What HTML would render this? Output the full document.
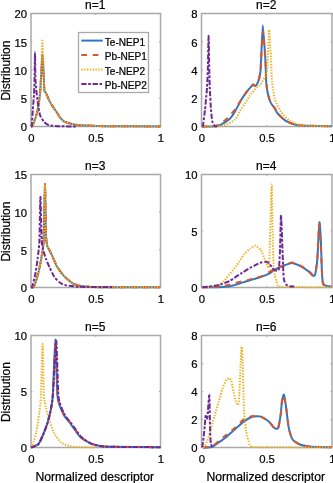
<!DOCTYPE html><html><head><meta charset="utf-8"><style>html,body{margin:0;padding:0;background:#fff;width:333px;height:483px;overflow:hidden}svg{display:block;filter:blur(0.5px)}text{font-family:"Liberation Sans", sans-serif;stroke:#000;stroke-width:0.22px;paint-order:stroke}</style></head><body>
<svg width="333" height="483" viewBox="0 0 333 483">
<rect x="31.0" y="13.5" width="129.5" height="113.0" fill="none" stroke="#a9a9a9" stroke-width="1.5"/>
<line x1="31.0" y1="126.50" x2="32.5" y2="126.50" stroke="#a9a9a9" stroke-width="1"/>
<line x1="160.5" y1="126.50" x2="159.0" y2="126.50" stroke="#a9a9a9" stroke-width="1"/>
<text x="27.0" y="131.30" font-size="11.3" text-anchor="end" fill="#000">0</text>
<line x1="31.0" y1="98.25" x2="32.5" y2="98.25" stroke="#a9a9a9" stroke-width="1"/>
<line x1="160.5" y1="98.25" x2="159.0" y2="98.25" stroke="#a9a9a9" stroke-width="1"/>
<text x="27.0" y="103.05" font-size="11.3" text-anchor="end" fill="#000">5</text>
<line x1="31.0" y1="70.00" x2="32.5" y2="70.00" stroke="#a9a9a9" stroke-width="1"/>
<line x1="160.5" y1="70.00" x2="159.0" y2="70.00" stroke="#a9a9a9" stroke-width="1"/>
<text x="27.0" y="74.80" font-size="11.3" text-anchor="end" fill="#000">10</text>
<line x1="31.0" y1="41.75" x2="32.5" y2="41.75" stroke="#a9a9a9" stroke-width="1"/>
<line x1="160.5" y1="41.75" x2="159.0" y2="41.75" stroke="#a9a9a9" stroke-width="1"/>
<text x="27.0" y="46.55" font-size="11.3" text-anchor="end" fill="#000">15</text>
<line x1="31.0" y1="13.50" x2="32.5" y2="13.50" stroke="#a9a9a9" stroke-width="1"/>
<line x1="160.5" y1="13.50" x2="159.0" y2="13.50" stroke="#a9a9a9" stroke-width="1"/>
<text x="27.0" y="18.30" font-size="11.3" text-anchor="end" fill="#000">20</text>
<line x1="31.00" y1="126.5" x2="31.00" y2="125.0" stroke="#a9a9a9" stroke-width="1"/>
<line x1="31.00" y1="13.5" x2="31.00" y2="15.0" stroke="#a9a9a9" stroke-width="1"/>
<text x="31.30" y="142.3" font-size="11.3" text-anchor="middle" fill="#000">0</text>
<line x1="95.75" y1="126.5" x2="95.75" y2="125.0" stroke="#a9a9a9" stroke-width="1"/>
<line x1="95.75" y1="13.5" x2="95.75" y2="15.0" stroke="#a9a9a9" stroke-width="1"/>
<text x="96.05" y="142.3" font-size="11.3" text-anchor="middle" fill="#000">0.5</text>
<line x1="160.50" y1="126.5" x2="160.50" y2="125.0" stroke="#a9a9a9" stroke-width="1"/>
<line x1="160.50" y1="13.5" x2="160.50" y2="15.0" stroke="#a9a9a9" stroke-width="1"/>
<text x="160.80" y="142.3" font-size="11.3" text-anchor="middle" fill="#000">1</text>
<text x="95.25" y="9.3" font-size="12" text-anchor="middle" fill="#000">n=1</text>
<path d="M31.00,126.50 C31.15,126.42 32.05,126.55 32.50,125.70 C32.95,124.85 34.96,119.69 35.50,118.00 C36.04,116.31 37.46,111.11 37.90,108.80 C38.34,106.49 39.60,97.78 39.90,94.90 C40.20,92.02 40.70,83.29 40.90,80.00 C41.10,76.71 41.76,64.54 41.90,62.00 C42.04,59.46 42.17,54.20 42.30,54.60 C42.43,55.00 43.04,63.46 43.20,66.00 C43.36,68.54 43.78,77.51 43.90,80.00 C44.02,82.49 44.20,89.61 44.40,90.90 C44.60,92.19 45.45,92.00 45.90,92.90 C46.35,93.80 48.20,98.51 48.90,99.90 C49.60,101.29 52.01,105.41 52.90,106.80 C53.79,108.19 57.14,112.80 57.80,113.80 C58.46,114.80 58.88,116.05 59.50,116.80 C60.12,117.55 62.95,120.63 64.00,121.30 C65.05,121.97 68.65,123.13 70.00,123.50 C71.35,123.87 75.25,124.77 77.50,125.00 C79.75,125.23 89.25,125.67 92.50,125.80 C95.75,125.93 103.20,126.24 110.00,126.30 C116.80,126.36 155.45,126.39 160.50,126.40" stroke="#2f77c4" stroke-width="2.00" fill="none" stroke-linejoin="round"/>
<path d="M31.00,126.50 C31.15,126.42 32.05,126.55 32.50,125.70 C32.95,124.85 34.96,119.69 35.50,118.00 C36.04,116.31 37.46,111.11 37.90,108.80 C38.34,106.49 39.60,97.78 39.90,94.90 C40.20,92.02 40.70,83.29 40.90,80.00 C41.10,76.71 41.76,64.54 41.90,62.00 C42.04,59.46 42.17,54.20 42.30,54.60 C42.43,55.00 43.04,63.46 43.20,66.00 C43.36,68.54 43.78,77.51 43.90,80.00 C44.02,82.49 44.20,89.61 44.40,90.90 C44.60,92.19 45.45,92.00 45.90,92.90 C46.35,93.80 48.20,98.51 48.90,99.90 C49.60,101.29 52.01,105.41 52.90,106.80 C53.79,108.19 57.14,112.80 57.80,113.80 C58.46,114.80 58.88,116.05 59.50,116.80 C60.12,117.55 62.95,120.63 64.00,121.30 C65.05,121.97 68.65,123.13 70.00,123.50 C71.35,123.87 75.25,124.77 77.50,125.00 C79.75,125.23 89.25,125.67 92.50,125.80 C95.75,125.93 103.20,126.24 110.00,126.30 C116.80,126.36 155.45,126.39 160.50,126.40" stroke="#d9562a" stroke-width="2.00" fill="none" stroke-dasharray="5.7 5.7"/>
<path d="M31.00,126.50 C31.15,126.42 32.05,126.55 32.50,125.70 C32.95,124.85 34.96,119.69 35.50,118.00 C36.04,116.31 37.46,111.11 37.90,108.80 C38.34,106.49 39.60,97.78 39.90,94.90 C40.20,92.02 40.70,83.99 40.90,80.00 C41.10,76.01 41.75,58.94 41.90,55.00 C42.05,51.06 42.26,39.90 42.40,40.60 C42.54,41.30 43.15,58.06 43.30,62.00 C43.45,65.94 43.79,77.11 43.90,80.00 C44.01,82.89 44.20,89.61 44.40,90.90 C44.60,92.19 45.45,92.00 45.90,92.90 C46.35,93.80 48.20,98.51 48.90,99.90 C49.60,101.29 52.01,105.41 52.90,106.80 C53.79,108.19 57.14,112.80 57.80,113.80 C58.46,114.80 58.88,116.05 59.50,116.80 C60.12,117.55 62.95,120.63 64.00,121.30 C65.05,121.97 68.65,123.13 70.00,123.50 C71.35,123.87 75.25,124.77 77.50,125.00 C79.75,125.23 89.25,125.67 92.50,125.80 C95.75,125.93 103.20,126.24 110.00,126.30 C116.80,126.36 155.45,126.39 160.50,126.40" stroke="#EDB120" stroke-width="2.00" fill="none" stroke-dasharray="1.4 1.42"/>
<path d="M31.00,126.50 C31.08,126.42 31.62,127.37 31.80,125.70 C31.98,124.03 32.58,112.88 32.80,109.80 C33.02,106.72 33.83,97.88 34.00,94.90 C34.17,91.92 34.40,84.27 34.50,80.00 C34.60,75.73 34.90,52.20 35.00,52.20 C35.10,52.20 35.26,75.23 35.50,80.00 C35.74,84.77 36.96,96.42 37.40,99.90 C37.84,103.38 39.25,112.62 39.90,114.80 C40.55,116.98 43.00,120.66 43.90,121.70 C44.80,122.74 47.29,124.75 48.90,125.20 C50.51,125.65 57.16,126.07 60.00,126.20 C62.84,126.33 75.57,126.47 77.30,126.50" stroke="#6e2a94" stroke-width="2.00" fill="none" stroke-dasharray="5.3 1.6 2.7 1.7"/>
<text x="0" y="0" font-size="12" text-anchor="middle" fill="#000" transform="translate(9.6,70.6) rotate(-90)">Distribution</text>
<rect x="201.5" y="13.5" width="130.5" height="113.0" fill="none" stroke="#a9a9a9" stroke-width="1.5"/>
<line x1="201.5" y1="126.50" x2="203.0" y2="126.50" stroke="#a9a9a9" stroke-width="1"/>
<line x1="332.0" y1="126.50" x2="330.5" y2="126.50" stroke="#a9a9a9" stroke-width="1"/>
<text x="197.5" y="131.30" font-size="11.3" text-anchor="end" fill="#000">0</text>
<line x1="201.5" y1="98.25" x2="203.0" y2="98.25" stroke="#a9a9a9" stroke-width="1"/>
<line x1="332.0" y1="98.25" x2="330.5" y2="98.25" stroke="#a9a9a9" stroke-width="1"/>
<text x="197.5" y="103.05" font-size="11.3" text-anchor="end" fill="#000">2</text>
<line x1="201.5" y1="70.00" x2="203.0" y2="70.00" stroke="#a9a9a9" stroke-width="1"/>
<line x1="332.0" y1="70.00" x2="330.5" y2="70.00" stroke="#a9a9a9" stroke-width="1"/>
<text x="197.5" y="74.80" font-size="11.3" text-anchor="end" fill="#000">4</text>
<line x1="201.5" y1="41.75" x2="203.0" y2="41.75" stroke="#a9a9a9" stroke-width="1"/>
<line x1="332.0" y1="41.75" x2="330.5" y2="41.75" stroke="#a9a9a9" stroke-width="1"/>
<text x="197.5" y="46.55" font-size="11.3" text-anchor="end" fill="#000">6</text>
<line x1="201.5" y1="13.50" x2="203.0" y2="13.50" stroke="#a9a9a9" stroke-width="1"/>
<line x1="332.0" y1="13.50" x2="330.5" y2="13.50" stroke="#a9a9a9" stroke-width="1"/>
<text x="197.5" y="18.30" font-size="11.3" text-anchor="end" fill="#000">8</text>
<line x1="201.50" y1="126.5" x2="201.50" y2="125.0" stroke="#a9a9a9" stroke-width="1"/>
<line x1="201.50" y1="13.5" x2="201.50" y2="15.0" stroke="#a9a9a9" stroke-width="1"/>
<text x="201.80" y="142.3" font-size="11.3" text-anchor="middle" fill="#000">0</text>
<line x1="266.75" y1="126.5" x2="266.75" y2="125.0" stroke="#a9a9a9" stroke-width="1"/>
<line x1="266.75" y1="13.5" x2="266.75" y2="15.0" stroke="#a9a9a9" stroke-width="1"/>
<text x="267.05" y="142.3" font-size="11.3" text-anchor="middle" fill="#000">0.5</text>
<line x1="332.00" y1="126.5" x2="332.00" y2="125.0" stroke="#a9a9a9" stroke-width="1"/>
<line x1="332.00" y1="13.5" x2="332.00" y2="15.0" stroke="#a9a9a9" stroke-width="1"/>
<text x="332.30" y="142.3" font-size="11.3" text-anchor="middle" fill="#000">1</text>
<text x="266.25" y="9.3" font-size="12" text-anchor="middle" fill="#000">n=2</text>
<path d="M201.80,126.50 C203.12,126.47 213.13,126.37 215.00,126.20 C216.87,126.03 219.04,125.52 220.50,124.80 C221.96,124.08 228.15,120.33 229.60,119.00 C231.05,117.67 233.88,113.34 235.00,111.50 C236.12,109.66 239.64,102.56 240.80,100.60 C241.96,98.64 245.59,93.28 246.60,91.90 C247.61,90.52 250.25,87.53 250.90,86.80 C251.55,86.07 252.66,84.67 253.10,84.60 C253.54,84.53 254.79,86.39 255.30,86.10 C255.81,85.81 257.69,83.11 258.20,81.70 C258.71,80.29 260.11,74.17 260.40,72.00 C260.69,69.83 260.86,64.68 261.10,60.00 C261.34,55.32 262.37,25.20 262.80,25.20 C263.23,25.20 265.06,54.35 265.40,60.00 C265.74,65.65 265.98,78.45 266.20,81.70 C266.42,84.95 267.22,90.57 267.60,92.50 C267.98,94.43 269.51,99.70 270.00,101.00 C270.49,102.30 272.00,104.75 272.50,105.50 C273.00,106.25 274.53,107.75 275.00,108.50 C275.47,109.25 276.16,111.79 277.20,113.00 C278.24,114.21 283.56,119.43 285.40,120.60 C287.24,121.77 293.56,124.19 295.60,124.70 C297.64,125.21 302.21,125.54 305.80,125.70 C309.39,125.86 328.93,126.24 331.50,126.30" stroke="#2f77c4" stroke-width="2.00" fill="none" stroke-linejoin="round"/>
<path d="M201.80,126.50 C202.92,126.47 211.33,126.37 213.00,126.20 C214.67,126.03 217.17,125.49 218.50,124.80 C219.83,124.11 224.70,120.78 226.30,119.30 C227.90,117.82 233.05,111.87 234.50,110.00 C235.95,108.13 239.59,102.41 240.80,100.60 C242.01,98.79 245.59,93.28 246.60,91.90 C247.61,90.52 250.25,87.53 250.90,86.80 C251.55,86.07 252.66,84.67 253.10,84.60 C253.54,84.53 254.79,86.39 255.30,86.10 C255.81,85.81 257.69,83.11 258.20,81.70 C258.71,80.29 260.11,74.17 260.40,72.00 C260.69,69.83 260.84,64.08 261.10,60.00 C261.36,55.92 262.57,31.20 263.00,31.20 C263.43,31.20 265.08,54.95 265.40,60.00 C265.72,65.05 265.98,78.45 266.20,81.70 C266.42,84.95 267.22,90.57 267.60,92.50 C267.98,94.43 269.51,99.70 270.00,101.00 C270.49,102.30 272.00,104.75 272.50,105.50 C273.00,106.25 274.53,107.75 275.00,108.50 C275.47,109.25 276.16,111.79 277.20,113.00 C278.24,114.21 283.56,119.43 285.40,120.60 C287.24,121.77 293.56,124.19 295.60,124.70 C297.64,125.21 302.21,125.54 305.80,125.70 C309.39,125.86 328.93,126.24 331.50,126.30" stroke="#d9562a" stroke-width="2.00" fill="none" stroke-dasharray="5.7 5.7"/>
<path d="M201.80,126.50 C203.90,126.45 219.48,126.71 222.80,126.00 C226.12,125.29 233.29,120.90 235.00,119.40 C236.71,117.90 239.18,112.16 239.90,111.00 C240.62,109.84 241.24,109.28 242.20,107.80 C243.16,106.32 248.05,98.23 249.50,96.20 C250.95,94.17 255.61,88.66 256.70,87.50 C257.79,86.34 259.53,85.76 260.40,84.60 C261.27,83.44 264.72,77.40 265.40,75.90 C266.08,74.40 266.84,74.21 267.20,69.60 C267.56,64.99 268.69,31.96 269.00,29.80 C269.31,27.64 270.08,44.98 270.30,48.00 C270.52,51.02 271.09,57.84 271.20,60.00 C271.31,62.16 271.32,67.43 271.40,69.60 C271.48,71.77 271.82,79.66 272.00,81.70 C272.18,83.74 272.95,88.37 273.20,90.00 C273.45,91.63 274.20,96.70 274.50,98.00 C274.80,99.30 275.52,101.56 276.20,103.00 C276.88,104.44 279.97,110.64 281.30,112.40 C282.63,114.16 287.66,119.33 289.50,120.60 C291.34,121.87 297.66,124.59 299.70,125.10 C301.74,125.61 306.72,125.57 309.90,125.70 C313.08,125.83 329.34,126.33 331.50,126.40" stroke="#EDB120" stroke-width="2.00" fill="none" stroke-dasharray="1.4 1.42"/>
<path d="M202.00,126.30 C202.10,126.20 202.70,126.94 203.00,125.30 C203.30,123.66 204.68,112.73 205.00,109.90 C205.32,107.07 206.00,99.19 206.20,97.00 C206.40,94.81 206.84,90.70 207.00,88.00 C207.16,85.30 207.64,75.23 207.80,70.00 C207.96,64.77 208.45,35.70 208.60,35.70 C208.75,35.70 209.18,64.77 209.30,70.00 C209.42,75.23 209.63,84.01 209.80,88.00 C209.97,91.99 210.74,106.52 211.00,109.90 C211.26,113.28 212.00,120.16 212.40,121.80 C212.80,123.44 214.54,125.85 215.00,126.30 C215.46,126.75 216.80,126.30 217.00,126.30" stroke="#6e2a94" stroke-width="2.00" fill="none" stroke-dasharray="5.3 1.6 2.7 1.7"/>
<rect x="31.0" y="174.5" width="129.5" height="113.0" fill="none" stroke="#a9a9a9" stroke-width="1.5"/>
<line x1="31.0" y1="287.50" x2="32.5" y2="287.50" stroke="#a9a9a9" stroke-width="1"/>
<line x1="160.5" y1="287.50" x2="159.0" y2="287.50" stroke="#a9a9a9" stroke-width="1"/>
<text x="27.0" y="292.30" font-size="11.3" text-anchor="end" fill="#000">0</text>
<line x1="31.0" y1="249.83" x2="32.5" y2="249.83" stroke="#a9a9a9" stroke-width="1"/>
<line x1="160.5" y1="249.83" x2="159.0" y2="249.83" stroke="#a9a9a9" stroke-width="1"/>
<text x="27.0" y="254.63" font-size="11.3" text-anchor="end" fill="#000">5</text>
<line x1="31.0" y1="212.17" x2="32.5" y2="212.17" stroke="#a9a9a9" stroke-width="1"/>
<line x1="160.5" y1="212.17" x2="159.0" y2="212.17" stroke="#a9a9a9" stroke-width="1"/>
<text x="27.0" y="216.97" font-size="11.3" text-anchor="end" fill="#000">10</text>
<line x1="31.0" y1="174.50" x2="32.5" y2="174.50" stroke="#a9a9a9" stroke-width="1"/>
<line x1="160.5" y1="174.50" x2="159.0" y2="174.50" stroke="#a9a9a9" stroke-width="1"/>
<text x="27.0" y="179.30" font-size="11.3" text-anchor="end" fill="#000">15</text>
<line x1="31.00" y1="287.5" x2="31.00" y2="286.0" stroke="#a9a9a9" stroke-width="1"/>
<line x1="31.00" y1="174.5" x2="31.00" y2="176.0" stroke="#a9a9a9" stroke-width="1"/>
<text x="31.30" y="303.3" font-size="11.3" text-anchor="middle" fill="#000">0</text>
<line x1="95.75" y1="287.5" x2="95.75" y2="286.0" stroke="#a9a9a9" stroke-width="1"/>
<line x1="95.75" y1="174.5" x2="95.75" y2="176.0" stroke="#a9a9a9" stroke-width="1"/>
<text x="96.05" y="303.3" font-size="11.3" text-anchor="middle" fill="#000">0.5</text>
<line x1="160.50" y1="287.5" x2="160.50" y2="286.0" stroke="#a9a9a9" stroke-width="1"/>
<line x1="160.50" y1="174.5" x2="160.50" y2="176.0" stroke="#a9a9a9" stroke-width="1"/>
<text x="160.80" y="303.3" font-size="11.3" text-anchor="middle" fill="#000">1</text>
<text x="95.25" y="170.3" font-size="12" text-anchor="middle" fill="#000">n=3</text>
<path d="M31.00,287.50 C31.30,287.41 33.22,288.25 34.00,286.60 C34.78,284.95 38.02,274.12 38.80,271.00 C39.58,267.88 41.32,258.40 41.80,255.40 C42.28,252.40 43.28,248.11 43.60,241.00 C43.92,233.89 44.76,184.90 45.00,184.30 C45.24,183.70 45.78,228.85 46.00,235.00 C46.22,241.15 46.90,244.36 47.20,245.80 C47.50,247.24 48.52,248.44 49.00,249.40 C49.48,250.36 51.22,253.72 52.00,255.40 C52.78,257.08 55.72,264.28 56.80,266.20 C57.88,268.12 61.72,273.28 62.80,274.60 C63.88,275.92 66.62,278.52 67.60,279.40 C68.58,280.28 71.26,282.73 72.60,283.40 C73.94,284.07 79.11,285.75 81.00,286.10 C82.89,286.45 88.60,286.79 91.50,286.90 C94.40,287.01 103.10,287.16 110.00,287.20 C116.90,287.24 155.45,287.29 160.50,287.30" stroke="#2f77c4" stroke-width="2.00" fill="none" stroke-linejoin="round"/>
<path d="M31.00,287.50 C31.30,287.41 33.22,288.25 34.00,286.60 C34.78,284.95 38.02,274.12 38.80,271.00 C39.58,267.88 41.32,258.40 41.80,255.40 C42.28,252.40 43.28,248.11 43.60,241.00 C43.92,233.89 44.76,184.90 45.00,184.30 C45.24,183.70 45.78,228.85 46.00,235.00 C46.22,241.15 46.90,244.36 47.20,245.80 C47.50,247.24 48.52,248.44 49.00,249.40 C49.48,250.36 51.22,253.72 52.00,255.40 C52.78,257.08 55.72,264.28 56.80,266.20 C57.88,268.12 61.72,273.28 62.80,274.60 C63.88,275.92 66.62,278.52 67.60,279.40 C68.58,280.28 71.26,282.73 72.60,283.40 C73.94,284.07 79.11,285.75 81.00,286.10 C82.89,286.45 88.60,286.79 91.50,286.90 C94.40,287.01 103.10,287.16 110.00,287.20 C116.90,287.24 155.45,287.29 160.50,287.30" stroke="#d9562a" stroke-width="2.00" fill="none" stroke-dasharray="5.7 5.7"/>
<path d="M31.00,287.50 C31.30,287.41 33.22,288.25 34.00,286.60 C34.78,284.95 38.02,274.12 38.80,271.00 C39.58,267.88 41.32,258.40 41.80,255.40 C42.28,252.40 43.28,248.11 43.60,241.00 C43.92,233.89 44.76,184.90 45.00,184.30 C45.24,183.70 45.78,228.85 46.00,235.00 C46.22,241.15 46.90,244.36 47.20,245.80 C47.50,247.24 48.52,248.44 49.00,249.40 C49.48,250.36 51.22,253.72 52.00,255.40 C52.78,257.08 55.72,264.28 56.80,266.20 C57.88,268.12 61.72,273.28 62.80,274.60 C63.88,275.92 66.62,278.52 67.60,279.40 C68.58,280.28 71.26,282.73 72.60,283.40 C73.94,284.07 79.11,285.75 81.00,286.10 C82.89,286.45 88.60,286.79 91.50,286.90 C94.40,287.01 103.10,287.16 110.00,287.20 C116.90,287.24 155.45,287.29 160.50,287.30" stroke="#EDB120" stroke-width="2.00" fill="none" stroke-dasharray="1.4 1.42"/>
<path d="M31.00,287.50 C31.12,287.41 31.78,287.89 32.20,286.60 C32.62,285.31 34.66,277.36 35.20,274.60 C35.74,271.84 37.18,262.36 37.60,259.00 C38.02,255.64 39.12,247.22 39.40,241.00 C39.68,234.78 40.17,196.90 40.40,196.80 C40.63,196.70 41.44,234.74 41.70,240.00 C41.96,245.26 42.57,247.50 43.00,249.40 C43.43,251.30 45.34,257.20 46.00,259.00 C46.66,260.80 48.76,265.60 49.60,267.40 C50.44,269.20 53.32,275.44 54.40,277.00 C55.48,278.56 59.20,282.16 60.40,283.00 C61.60,283.84 64.44,285.02 66.40,285.40 C68.36,285.78 75.44,286.64 80.00,286.80 C84.56,286.96 108.80,286.98 112.00,287.00" stroke="#6e2a94" stroke-width="2.00" fill="none" stroke-dasharray="5.3 1.6 2.7 1.7"/>
<text x="0" y="0" font-size="12" text-anchor="middle" fill="#000" transform="translate(9.6,231.6) rotate(-90)">Distribution</text>
<rect x="201.5" y="174.5" width="130.5" height="113.0" fill="none" stroke="#a9a9a9" stroke-width="1.5"/>
<line x1="201.5" y1="287.50" x2="203.0" y2="287.50" stroke="#a9a9a9" stroke-width="1"/>
<line x1="332.0" y1="287.50" x2="330.5" y2="287.50" stroke="#a9a9a9" stroke-width="1"/>
<text x="197.5" y="292.30" font-size="11.3" text-anchor="end" fill="#000">0</text>
<line x1="201.5" y1="231.00" x2="203.0" y2="231.00" stroke="#a9a9a9" stroke-width="1"/>
<line x1="332.0" y1="231.00" x2="330.5" y2="231.00" stroke="#a9a9a9" stroke-width="1"/>
<text x="197.5" y="235.80" font-size="11.3" text-anchor="end" fill="#000">5</text>
<line x1="201.5" y1="174.50" x2="203.0" y2="174.50" stroke="#a9a9a9" stroke-width="1"/>
<line x1="332.0" y1="174.50" x2="330.5" y2="174.50" stroke="#a9a9a9" stroke-width="1"/>
<text x="197.5" y="179.30" font-size="11.3" text-anchor="end" fill="#000">10</text>
<line x1="201.50" y1="287.5" x2="201.50" y2="286.0" stroke="#a9a9a9" stroke-width="1"/>
<line x1="201.50" y1="174.5" x2="201.50" y2="176.0" stroke="#a9a9a9" stroke-width="1"/>
<text x="201.80" y="303.3" font-size="11.3" text-anchor="middle" fill="#000">0</text>
<line x1="266.75" y1="287.5" x2="266.75" y2="286.0" stroke="#a9a9a9" stroke-width="1"/>
<line x1="266.75" y1="174.5" x2="266.75" y2="176.0" stroke="#a9a9a9" stroke-width="1"/>
<text x="267.05" y="303.3" font-size="11.3" text-anchor="middle" fill="#000">0.5</text>
<line x1="332.00" y1="287.5" x2="332.00" y2="286.0" stroke="#a9a9a9" stroke-width="1"/>
<line x1="332.00" y1="174.5" x2="332.00" y2="176.0" stroke="#a9a9a9" stroke-width="1"/>
<text x="332.30" y="303.3" font-size="11.3" text-anchor="middle" fill="#000">1</text>
<text x="266.25" y="170.3" font-size="12" text-anchor="middle" fill="#000">n=4</text>
<path d="M202.00,287.30 C204.05,287.27 219.40,287.18 222.50,287.00 C225.60,286.82 230.51,286.10 233.00,285.50 C235.49,284.90 244.70,281.82 247.40,281.00 C250.10,280.18 257.84,278.03 260.00,277.30 C262.16,276.57 267.50,274.48 269.00,273.70 C270.50,272.92 273.38,270.37 275.00,269.50 C276.62,268.63 283.50,265.66 285.20,265.00 C286.90,264.34 290.61,262.86 292.00,262.90 C293.39,262.94 297.48,264.58 299.10,265.40 C300.72,266.22 306.83,270.07 308.20,271.10 C309.57,272.13 312.11,275.36 312.80,275.70 C313.49,276.04 314.65,276.10 315.10,274.50 C315.55,272.90 316.96,263.46 317.30,259.70 C317.64,255.94 318.27,240.66 318.50,236.90 C318.73,233.14 319.37,221.87 319.60,222.10 C319.83,222.33 320.57,234.30 320.80,239.20 C321.03,244.10 321.68,266.66 321.90,271.10 C322.12,275.54 322.55,282.12 323.00,283.60 C323.45,285.08 325.55,285.60 326.40,285.90 C327.25,286.20 330.99,286.53 331.50,286.60" stroke="#2f77c4" stroke-width="2.00" fill="none" stroke-linejoin="round"/>
<path d="M202.00,287.30 C203.30,287.27 212.62,287.18 215.00,287.00 C217.38,286.82 223.46,285.98 225.80,285.50 C228.14,285.02 235.88,282.84 238.40,282.20 C240.92,281.56 248.48,279.77 251.00,279.10 C253.52,278.43 261.50,276.36 263.60,275.50 C265.70,274.64 269.84,271.60 272.00,270.50 C274.16,269.40 283.20,265.30 285.20,264.50 C287.20,263.70 290.61,262.45 292.00,262.50 C293.39,262.55 297.48,264.20 299.10,265.00 C300.72,265.80 306.83,269.50 308.20,270.50 C309.57,271.50 312.11,274.65 312.80,275.00 C313.49,275.35 314.65,275.53 315.10,274.00 C315.55,272.47 316.98,263.10 317.30,259.70 C317.62,256.30 318.13,243.53 318.30,240.00 C318.47,236.47 318.78,224.30 319.00,224.40 C319.22,224.50 320.21,236.33 320.50,241.00 C320.79,245.67 321.65,266.84 321.90,271.10 C322.15,275.36 322.55,282.12 323.00,283.60 C323.45,285.08 325.55,285.60 326.40,285.90 C327.25,286.20 330.99,286.53 331.50,286.60" stroke="#d9562a" stroke-width="2.00" fill="none" stroke-dasharray="5.7 5.7"/>
<path d="M202.00,287.30 C202.70,287.30 207.16,287.58 209.00,287.30 C210.84,287.02 218.36,285.77 220.40,284.50 C222.44,283.23 227.78,276.49 229.40,274.60 C231.02,272.71 235.16,267.58 236.60,265.60 C238.04,263.62 242.45,256.51 243.80,254.80 C245.15,253.09 248.93,249.40 250.10,248.50 C251.27,247.60 254.41,245.62 255.50,245.80 C256.59,245.98 260.10,249.04 261.00,250.30 C261.90,251.56 263.87,256.87 264.50,258.40 C265.13,259.93 266.85,264.70 267.30,265.60 C267.75,266.50 268.77,268.96 269.00,267.40 C269.23,265.84 269.45,254.74 269.60,250.00 C269.75,245.26 270.29,226.55 270.50,220.00 C270.71,213.45 271.49,183.50 271.70,184.50 C271.91,185.50 272.41,221.83 272.60,230.00 C272.79,238.17 273.38,261.66 273.60,266.20 C273.82,270.74 274.52,273.90 274.80,275.40 C275.08,276.90 276.06,280.15 276.40,281.20 C276.74,282.25 277.34,285.32 278.20,285.90 C279.06,286.48 279.67,286.87 285.00,287.00 C290.33,287.13 326.85,287.18 331.50,287.20" stroke="#EDB120" stroke-width="2.00" fill="none" stroke-dasharray="1.4 1.42"/>
<path d="M202.30,287.20 C203.57,287.06 213.19,286.07 215.00,285.80 C216.81,285.53 218.96,284.98 220.40,284.50 C221.84,284.02 227.24,282.17 229.40,281.00 C231.56,279.83 239.84,274.16 242.00,272.80 C244.16,271.44 249.20,268.39 251.00,267.40 C252.80,266.41 258.55,263.47 260.00,262.90 C261.45,262.33 264.60,261.67 265.50,261.70 C266.40,261.73 268.19,262.41 269.00,263.20 C269.81,263.99 272.80,268.84 273.60,269.60 C274.40,270.36 276.49,270.80 277.00,270.80 C277.51,270.80 278.46,270.48 278.70,269.60 C278.94,268.72 279.26,264.20 279.40,262.00 C279.54,259.80 279.94,252.29 280.10,247.60 C280.26,242.91 280.77,215.10 281.00,215.10 C281.23,215.10 282.17,242.03 282.40,247.60 C282.63,253.17 283.14,267.56 283.30,270.80 C283.46,274.04 283.69,278.61 284.00,280.00 C284.31,281.39 285.82,284.07 286.40,284.70 C286.98,285.33 289.01,286.11 289.80,286.30 C290.59,286.49 293.85,286.57 294.30,286.60" stroke="#6e2a94" stroke-width="2.00" fill="none" stroke-dasharray="5.3 1.6 2.7 1.7"/>
<rect x="31.0" y="335.5" width="129.5" height="112.0" fill="none" stroke="#a9a9a9" stroke-width="1.5"/>
<line x1="31.0" y1="447.50" x2="32.5" y2="447.50" stroke="#a9a9a9" stroke-width="1"/>
<line x1="160.5" y1="447.50" x2="159.0" y2="447.50" stroke="#a9a9a9" stroke-width="1"/>
<text x="27.0" y="452.30" font-size="11.3" text-anchor="end" fill="#000">0</text>
<line x1="31.0" y1="391.50" x2="32.5" y2="391.50" stroke="#a9a9a9" stroke-width="1"/>
<line x1="160.5" y1="391.50" x2="159.0" y2="391.50" stroke="#a9a9a9" stroke-width="1"/>
<text x="27.0" y="396.30" font-size="11.3" text-anchor="end" fill="#000">5</text>
<line x1="31.0" y1="335.50" x2="32.5" y2="335.50" stroke="#a9a9a9" stroke-width="1"/>
<line x1="160.5" y1="335.50" x2="159.0" y2="335.50" stroke="#a9a9a9" stroke-width="1"/>
<text x="27.0" y="340.30" font-size="11.3" text-anchor="end" fill="#000">10</text>
<line x1="31.00" y1="447.5" x2="31.00" y2="446.0" stroke="#a9a9a9" stroke-width="1"/>
<line x1="31.00" y1="335.5" x2="31.00" y2="337.0" stroke="#a9a9a9" stroke-width="1"/>
<text x="31.30" y="463.3" font-size="11.3" text-anchor="middle" fill="#000">0</text>
<line x1="95.75" y1="447.5" x2="95.75" y2="446.0" stroke="#a9a9a9" stroke-width="1"/>
<line x1="95.75" y1="335.5" x2="95.75" y2="337.0" stroke="#a9a9a9" stroke-width="1"/>
<text x="96.05" y="463.3" font-size="11.3" text-anchor="middle" fill="#000">0.5</text>
<line x1="160.50" y1="447.5" x2="160.50" y2="446.0" stroke="#a9a9a9" stroke-width="1"/>
<line x1="160.50" y1="335.5" x2="160.50" y2="337.0" stroke="#a9a9a9" stroke-width="1"/>
<text x="160.80" y="463.3" font-size="11.3" text-anchor="middle" fill="#000">1</text>
<text x="95.25" y="331.3" font-size="12" text-anchor="middle" fill="#000">n=5</text>
<path d="M31.00,447.30 C31.15,447.27 31.75,447.33 32.50,447.00 C33.25,446.67 37.45,445.20 38.50,444.00 C39.55,442.80 42.10,437.10 43.00,435.00 C43.90,432.90 46.75,425.40 47.50,423.00 C48.25,420.60 49.97,413.70 50.50,411.00 C51.03,408.30 52.32,403.15 52.80,396.00 C53.28,388.85 54.85,339.65 55.30,339.50 C55.75,339.35 56.88,387.95 57.30,394.50 C57.72,401.05 58.83,402.90 59.50,405.00 C60.17,407.10 62.95,413.70 64.00,415.50 C65.05,417.30 68.98,421.66 70.00,423.00 C71.02,424.34 73.15,427.47 74.20,428.90 C75.25,430.33 78.82,435.83 80.50,437.30 C82.18,438.77 88.90,442.71 91.00,443.60 C93.10,444.49 99.40,445.88 101.50,446.20 C103.60,446.52 106.10,446.70 112.00,446.80 C117.90,446.90 155.65,447.16 160.50,447.20" stroke="#2f77c4" stroke-width="2.00" fill="none" stroke-linejoin="round"/>
<path d="M31.00,447.30 C31.15,447.27 31.75,447.33 32.50,447.00 C33.25,446.67 37.45,445.20 38.50,444.00 C39.55,442.80 42.10,437.10 43.00,435.00 C43.90,432.90 46.75,425.40 47.50,423.00 C48.25,420.60 49.97,413.70 50.50,411.00 C51.03,408.30 52.29,402.95 52.80,396.00 C53.31,389.05 55.10,341.65 55.60,341.50 C56.10,341.35 57.36,388.15 57.80,394.50 C58.24,400.85 59.33,402.90 60.00,405.00 C60.67,407.10 63.45,413.70 64.50,415.50 C65.55,417.30 69.48,421.66 70.50,423.00 C71.52,424.34 73.65,427.47 74.70,428.90 C75.75,430.33 79.37,435.83 81.00,437.30 C82.63,438.77 88.95,442.71 91.00,443.60 C93.05,444.49 99.40,445.88 101.50,446.20 C103.60,446.52 106.10,446.70 112.00,446.80 C117.90,446.90 155.65,447.16 160.50,447.20" stroke="#d9562a" stroke-width="2.00" fill="none" stroke-dasharray="5.7 5.7"/>
<path d="M31.00,447.30 C31.15,447.13 31.97,447.13 32.50,445.60 C33.03,444.07 35.62,435.31 36.30,432.00 C36.98,428.69 38.85,415.95 39.30,412.50 C39.75,409.05 40.47,404.35 40.80,397.50 C41.13,390.65 42.30,344.30 42.60,344.00 C42.90,343.70 43.46,388.10 43.80,394.50 C44.14,400.90 45.40,405.30 46.00,408.00 C46.60,410.70 48.97,418.95 49.80,421.50 C50.63,424.05 53.18,431.40 54.30,433.50 C55.42,435.60 59.43,441.22 61.00,442.50 C62.57,443.78 68.35,445.85 70.00,446.30 C71.65,446.75 75.03,446.89 77.50,447.00 C79.97,447.11 92.98,447.36 94.70,447.40" stroke="#EDB120" stroke-width="2.00" fill="none" stroke-dasharray="1.4 1.42"/>
<path d="M31.00,447.30 C31.15,447.27 31.75,447.33 32.50,447.00 C33.25,446.67 37.45,445.20 38.50,444.00 C39.55,442.80 42.10,437.10 43.00,435.00 C43.90,432.90 46.75,425.40 47.50,423.00 C48.25,420.60 49.97,413.70 50.50,411.00 C51.03,408.30 52.23,403.03 52.80,396.00 C53.37,388.97 55.65,340.85 56.20,340.70 C56.75,340.55 57.87,388.07 58.30,394.50 C58.73,400.93 59.83,402.90 60.50,405.00 C61.17,407.10 63.95,413.70 65.00,415.50 C66.05,417.30 69.98,421.66 71.00,423.00 C72.02,424.34 74.15,427.47 75.20,428.90 C76.25,430.33 79.92,435.83 81.50,437.30 C83.08,438.77 89.00,442.71 91.00,443.60 C93.00,444.49 99.40,445.88 101.50,446.20 C103.60,446.52 106.10,446.70 112.00,446.80 C117.90,446.90 155.65,447.16 160.50,447.20" stroke="#6e2a94" stroke-width="2.00" fill="none" stroke-dasharray="5.3 1.6 2.7 1.7"/>
<text x="0" y="0" font-size="12" text-anchor="middle" fill="#000" transform="translate(9.6,392.1) rotate(-90)">Distribution</text>
<text x="94.75" y="480.5" font-size="12.2" text-anchor="middle" fill="#000">Normalized descriptor</text>
<rect x="201.5" y="335.5" width="130.5" height="112.0" fill="none" stroke="#a9a9a9" stroke-width="1.5"/>
<line x1="201.5" y1="447.50" x2="203.0" y2="447.50" stroke="#a9a9a9" stroke-width="1"/>
<line x1="332.0" y1="447.50" x2="330.5" y2="447.50" stroke="#a9a9a9" stroke-width="1"/>
<text x="197.5" y="452.30" font-size="11.3" text-anchor="end" fill="#000">0</text>
<line x1="201.5" y1="419.50" x2="203.0" y2="419.50" stroke="#a9a9a9" stroke-width="1"/>
<line x1="332.0" y1="419.50" x2="330.5" y2="419.50" stroke="#a9a9a9" stroke-width="1"/>
<text x="197.5" y="424.30" font-size="11.3" text-anchor="end" fill="#000">2</text>
<line x1="201.5" y1="391.50" x2="203.0" y2="391.50" stroke="#a9a9a9" stroke-width="1"/>
<line x1="332.0" y1="391.50" x2="330.5" y2="391.50" stroke="#a9a9a9" stroke-width="1"/>
<text x="197.5" y="396.30" font-size="11.3" text-anchor="end" fill="#000">4</text>
<line x1="201.5" y1="363.50" x2="203.0" y2="363.50" stroke="#a9a9a9" stroke-width="1"/>
<line x1="332.0" y1="363.50" x2="330.5" y2="363.50" stroke="#a9a9a9" stroke-width="1"/>
<text x="197.5" y="368.30" font-size="11.3" text-anchor="end" fill="#000">6</text>
<line x1="201.5" y1="335.50" x2="203.0" y2="335.50" stroke="#a9a9a9" stroke-width="1"/>
<line x1="332.0" y1="335.50" x2="330.5" y2="335.50" stroke="#a9a9a9" stroke-width="1"/>
<text x="197.5" y="340.30" font-size="11.3" text-anchor="end" fill="#000">8</text>
<line x1="201.50" y1="447.5" x2="201.50" y2="446.0" stroke="#a9a9a9" stroke-width="1"/>
<line x1="201.50" y1="335.5" x2="201.50" y2="337.0" stroke="#a9a9a9" stroke-width="1"/>
<text x="201.80" y="463.3" font-size="11.3" text-anchor="middle" fill="#000">0</text>
<line x1="266.75" y1="447.5" x2="266.75" y2="446.0" stroke="#a9a9a9" stroke-width="1"/>
<line x1="266.75" y1="335.5" x2="266.75" y2="337.0" stroke="#a9a9a9" stroke-width="1"/>
<text x="267.05" y="463.3" font-size="11.3" text-anchor="middle" fill="#000">0.5</text>
<line x1="332.00" y1="447.5" x2="332.00" y2="446.0" stroke="#a9a9a9" stroke-width="1"/>
<line x1="332.00" y1="335.5" x2="332.00" y2="337.0" stroke="#a9a9a9" stroke-width="1"/>
<text x="332.30" y="463.3" font-size="11.3" text-anchor="middle" fill="#000">1</text>
<text x="266.25" y="331.3" font-size="12" text-anchor="middle" fill="#000">n=6</text>
<path d="M203.00,447.50 C203.86,447.45 210.02,447.52 211.60,447.00 C213.18,446.48 217.35,443.28 218.80,442.30 C220.25,441.32 224.98,438.07 226.10,437.20 C227.22,436.33 229.13,434.37 230.00,433.60 C230.87,432.83 233.41,430.71 234.80,429.50 C236.19,428.29 242.18,422.77 243.90,421.50 C245.62,420.23 250.69,417.33 252.00,416.80 C253.31,416.27 256.11,416.21 257.00,416.20 C257.89,416.19 259.72,416.17 260.90,416.70 C262.08,417.23 267.48,420.39 268.80,421.50 C270.12,422.61 273.17,427.14 274.10,427.80 C275.03,428.46 277.44,429.44 278.10,428.10 C278.76,426.76 280.31,417.09 280.70,414.40 C281.09,411.71 281.68,403.18 282.00,401.20 C282.32,399.22 283.50,394.07 283.90,394.60 C284.30,395.13 285.52,403.20 286.00,406.50 C286.48,409.80 288.04,424.30 288.70,427.60 C289.36,430.90 291.41,437.78 292.60,439.50 C293.79,441.22 298.75,444.08 300.60,444.80 C302.45,445.52 308.01,446.46 311.10,446.70 C314.19,446.94 329.46,447.15 331.50,447.20" stroke="#2f77c4" stroke-width="2.00" fill="none" stroke-linejoin="round"/>
<path d="M203.00,447.50 C203.86,447.40 210.02,447.15 211.60,446.50 C213.18,445.85 217.35,442.15 218.80,441.00 C220.25,439.85 224.50,436.30 226.10,435.00 C227.70,433.70 233.02,429.58 234.80,428.00 C236.58,426.42 242.18,420.37 243.90,419.20 C245.62,418.03 250.69,416.62 252.00,416.30 C253.31,415.98 256.11,415.96 257.00,416.00 C257.89,416.04 259.72,416.15 260.90,416.70 C262.08,417.25 267.48,420.39 268.80,421.50 C270.12,422.61 273.17,427.14 274.10,427.80 C275.03,428.46 277.44,429.44 278.10,428.10 C278.76,426.76 280.31,417.09 280.70,414.40 C281.09,411.71 281.70,403.09 282.00,401.20 C282.30,399.31 283.30,394.97 283.70,395.50 C284.10,396.03 285.50,403.29 286.00,406.50 C286.50,409.71 288.04,424.30 288.70,427.60 C289.36,430.90 291.41,437.78 292.60,439.50 C293.79,441.22 298.75,444.08 300.60,444.80 C302.45,445.52 308.01,446.46 311.10,446.70 C314.19,446.94 329.46,447.15 331.50,447.20" stroke="#d9562a" stroke-width="2.00" fill="none" stroke-dasharray="5.7 5.7"/>
<path d="M203.00,447.50 C203.13,447.42 203.88,447.36 204.30,446.70 C204.72,446.04 206.62,442.35 207.20,440.90 C207.78,439.45 209.37,434.67 210.10,432.20 C210.83,429.73 213.63,419.25 214.50,416.20 C215.37,413.15 218.03,404.37 218.80,401.70 C219.57,399.03 221.48,391.62 222.20,389.50 C222.92,387.38 225.31,381.62 226.00,380.50 C226.69,379.38 228.56,378.25 229.10,378.30 C229.64,378.35 230.95,379.59 231.40,381.00 C231.85,382.41 233.15,390.35 233.60,392.40 C234.05,394.45 235.44,400.25 235.90,401.50 C236.36,402.75 237.86,405.58 238.20,404.90 C238.54,404.22 239.07,398.46 239.30,394.70 C239.53,390.94 240.27,372.09 240.50,367.30 C240.73,362.51 241.37,347.03 241.60,346.80 C241.83,346.57 242.57,358.85 242.80,365.00 C243.03,371.15 243.56,401.69 243.90,408.30 C244.24,414.91 245.63,427.45 246.20,431.10 C246.77,434.75 249.02,443.25 249.60,444.80 C250.18,446.35 251.36,446.35 252.00,446.60 C252.64,446.85 248.05,447.22 256.00,447.30 C263.95,447.38 323.95,447.39 331.50,447.40" stroke="#EDB120" stroke-width="2.00" fill="none" stroke-dasharray="1.4 1.42"/>
<path d="M202.20,447.40 C202.33,446.46 203.24,440.24 203.50,438.00 C203.76,435.76 204.57,427.32 204.80,425.00 C205.03,422.68 205.55,415.50 205.80,414.80 C206.05,414.10 206.95,419.95 207.30,418.00 C207.65,416.05 209.02,394.03 209.30,395.30 C209.58,396.57 209.94,425.85 210.10,430.70 C210.26,435.55 210.61,442.13 210.90,443.80 C211.19,445.47 212.79,447.04 213.00,447.40" stroke="#6e2a94" stroke-width="2.00" fill="none" stroke-dasharray="5.3 1.6 2.7 1.7"/>
<text x="265.75" y="480.5" font-size="12.2" text-anchor="middle" fill="#000">Normalized descriptor</text>
<rect x="78.5" y="32.5" width="70.0" height="60.0" fill="#fff" stroke="#a9a9a9" stroke-width="1.3"/>
<path d="M81.3,40.60 L102.8,40.60" stroke="#2f77c4" stroke-width="2" fill="none" stroke-linejoin="round"/>
<text x="104.8" y="45.60" font-size="10.1" fill="#000">Te-NEP1</text>
<path d="M81.3,55.10 L102.8,55.10" stroke="#d9562a" stroke-width="2" fill="none" stroke-dasharray="5.7 5.7"/>
<text x="104.8" y="60.10" font-size="10.1" fill="#000">Pb-NEP1</text>
<path d="M81.3,69.60 L102.8,69.60" stroke="#EDB120" stroke-width="2" fill="none" stroke-dasharray="1.4 1.42"/>
<text x="104.8" y="74.60" font-size="10.1" fill="#000">Te-NEP2</text>
<path d="M81.3,84.10 L102.8,84.10" stroke="#6e2a94" stroke-width="2" fill="none" stroke-dasharray="5.3 1.6 2.7 1.7"/>
<text x="104.8" y="89.10" font-size="10.1" fill="#000">Pb-NEP2</text>
</svg></body></html>
